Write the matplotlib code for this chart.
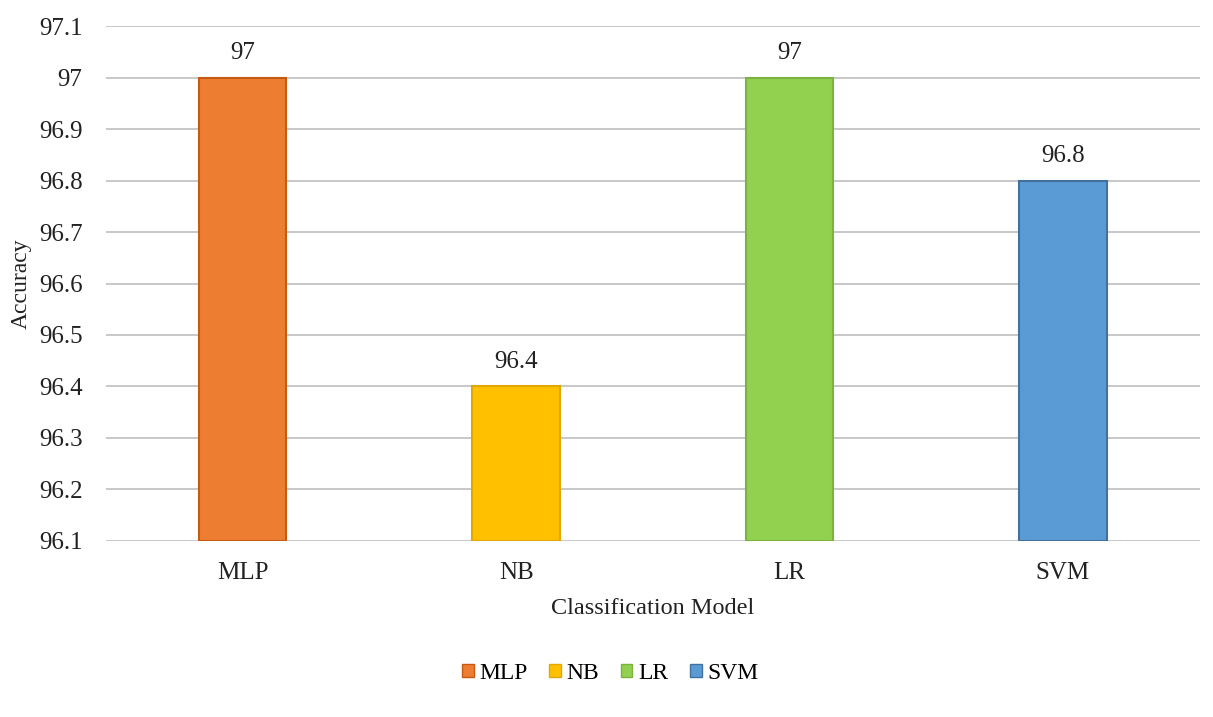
import matplotlib
matplotlib.use("Agg")
import matplotlib.pyplot as plt
from matplotlib.patches import Patch

models = ["MLP", "NB", "LR", "SVM"]
accuracy = [97.0, 96.4, 97.0, 96.8]
labels = ["97", "96.4", "97", "96.8"]
yticks = [96.1, 96.2, 96.3, 96.4, 96.5, 96.6, 96.7, 96.8, 96.9, 97.0, 97.1]
ytick_labels = ["96.1", "96.2", "96.3", "96.4", "96.5", "96.6", "96.7", "96.8", "96.9", "97", "97.1"]
colors = ["#ED7D31", "#FFC000", "#92D050", "#5B9BD5"]
edges = ["#C55A11", "#E0A800", "#7AB33E", "#41719C"]

plt.rcParams['font.family'] = ['Liberation Serif', 'DejaVu Serif']

fig = plt.figure(figsize=(12.13, 7.17), dpi=100)
ax = fig.add_axes([0.0874, 0.2455, 0.9016, 0.7182])

x = range(len(models))
bars = ax.bar(x, [a - 96.1 for a in accuracy], bottom=96.1, width=0.32,
              color=colors, edgecolor=edges, linewidth=1.5, zorder=3)
for xi, a, lab in zip(x, accuracy, labels):
    ax.text(xi, a + 0.026, lab, ha="center", va="bottom", fontsize=18, color="#222222")

ax.set_xlim(-0.5, 3.5)
ax.set_ylim(96.1, 97.1)
ax.set_yticks(yticks)
ax.set_yticklabels(ytick_labels, fontsize=18, color="#222222")
ax.set_xticks(list(x))
ax.set_xticklabels(models, fontsize=18, color="#222222")
ax.tick_params(axis="x", length=0, pad=15)
ax.tick_params(axis="y", length=0, pad=17)
ax.yaxis.grid(True, color="#BFBFBF", linewidth=1.2, zorder=0)
ax.set_axisbelow(True)
for s in ax.spines.values():
    s.set_visible(False)

ax.set_xlabel("Classification Model", fontsize=17.5, color="#222222", labelpad=10)
ax.set_ylabel("Accuracy", fontsize=17, color="#222222", labelpad=5)

handles = [Patch(facecolor=c, edgecolor=e, label=m) for c, e, m in zip(colors, edges, models)]
fig.legend(handles=handles, loc="center", bbox_to_anchor=(0.503, 0.061), ncol=4,
           frameon=False, fontsize=17, handlelength=0.5, handleheight=0.5,
           handletextpad=0.25, columnspacing=0.9)

fig.savefig("out.png", dpi=100)
